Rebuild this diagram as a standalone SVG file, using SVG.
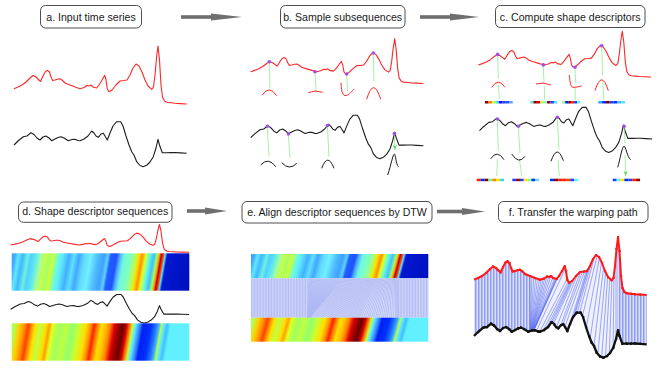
<svg xmlns="http://www.w3.org/2000/svg" width="664" height="369" viewBox="0 0 664 369">
<style>
.lb rect{fill:#fff;stroke:#3a3a3a;stroke-width:0.9}
.lb text{font-family:"Liberation Sans",Arial,sans-serif;font-size:10.6px;fill:#1a1a1a;text-anchor:middle}
.ar{fill:#6f6f6f}
.r{fill:none;stroke:#ff2626;stroke-width:1.1;stroke-linejoin:round}
.k{fill:none;stroke:#1c1c1c;stroke-width:1.1;stroke-linejoin:round}
.rf{fill:none;stroke:#ff1a1a;stroke-width:2;stroke-linejoin:round;marker-mid:url(#rd)}
.kf{fill:none;stroke:#111;stroke-width:2.3;stroke-linejoin:round;marker-mid:url(#kd)}
.g{stroke:#8cf08c;stroke-width:0.8;marker-end:url(#gh);fill:none}
.p{fill:#a24ee8}
.sr{fill:none;stroke:#ff2626;stroke-width:1}
.sk{fill:none;stroke:#1c1c1c;stroke-width:1}
.bar rect{height:2.5px}
</style>
<defs>
<path id="rs" vector-effect="non-scaling-stroke" d="M14,88.7 L18,87 22,85 26,82 30,78 33,75.5 36,77 38,79 40.5,81.5 43,76 45.5,71.5 47.5,70.3 49.5,72 51,77 52.7,80.5 55,80 58,79 60,78.8 62,80 65,83 70,85 75,87 80,88.7 84,87.5 87,85.5 89,86 91,85 93,87 96.7,88 99,85 102,80 104.7,75.3 106,80 107.3,89 109,91.7 112,90 116,85 120,81 124,80.5 127,80 130,75 133,68 136,64 139,66 142,72 145,80 148,86 151.7,89.3 153.5,87 155,75 156.5,58 158,46 159.5,60 161,85 162.5,97 164.5,101 167,102.3 171,102.8 175,103.3 180,103.6 186.7,104"/>
<path id="ks" vector-effect="non-scaling-stroke" d="M14,145 L18,141 23.3,136.7 27,136 31,132.7 34,134.5 37,138 40,140 43,137 46,136 49,138 51.7,140.7 55,139 58,137.5 61,136.7 64,138 68.3,140.7 72,139.5 75,139.3 78,140.5 80,140.7 84,139 88,136 91.7,131 94,133 96,136 98.3,137.3 101,134 103.3,133.3 105,136 107.3,140 110,133 113,126 116.7,121.7 120.7,121.7 123,126 126,136 129,145 131.7,151.7 134,155 136.7,161.7 140,165.5 143.3,166.7 147,165 150,162 153.3,156.7 156,148 158,139.3 159.5,145 162.3,152.7 166.7,152.7 171,152.6 175,152.5 180,152.9 186.7,153.3"/>
<clipPath id="fclip"><path d="M14,88.7 L18,87 22,85 26,82 30,78 33,75.5 36,77 38,79 40.5,81.5 43,76 45.5,71.5 47.5,70.3 49.5,72 51,77 52.7,80.5 55,80 58,79 60,78.8 62,80 65,83 70,85 75,87 80,88.7 84,87.5 87,85.5 89,86 91,85 93,87 96.7,88 99,85 102,80 104.7,75.3 106,80 107.3,89 109,91.7 112,90 116,85 120,81 124,80.5 127,80 130,75 133,68 136,64 139,66 142,72 145,80 148,86 151.7,89.3 153.5,87 155,75 156.5,58 158,46 159.5,60 161,85 162.5,97 164.5,101 167,102.3 175,103.3 186.7,104 L186.7,153.3 175,152.5 166.7,152.7 162.3,152.7 159.5,145 158,139.3 156,148 153.3,156.7 150,162 147,165 143.3,166.7 140,165.5 136.7,161.7 134,155 131.7,151.7 129,145 126,136 123,126 120.7,121.7 116.7,121.7 113,126 110,133 107.3,140 105,136 103.3,133.3 101,134 98.3,137.3 96,136 94,133 91.7,131 88,136 84,139 80,140.7 78,140.5 75,139.3 72,139.5 68.3,140.7 64,138 61,136.7 58,137.5 55,139 51.7,140.7 49,138 46,136 43,137 40,140 37,138 34,134.5 31,132.7 27,136 23.3,136.7 18,141 14,145 Z"/></clipPath>
<marker id="gh" markerUnits="userSpaceOnUse" markerWidth="5" markerHeight="5" viewBox="0 0 6 6" refX="6" refY="3" orient="auto"><path d="M0,0.5 L6,3 L0,5.5 L1.5,3 Z" fill="#5ed85e"/></marker>
<marker id="rd" markerUnits="userSpaceOnUse" markerWidth="3" markerHeight="3" viewBox="-1.5 -1.5 3 3"><circle r="1.3" fill="#ff1a1a"/></marker>
<marker id="kd" markerUnits="userSpaceOnUse" markerWidth="3" markerHeight="3" viewBox="-1.5 -1.5 3 3"><circle r="1.4" fill="#111"/></marker>
<pattern id="vpf" patternUnits="userSpaceOnUse" width="1.5" height="10"><rect width="0.55" height="10" fill="#5566ee"/></pattern>
<pattern id="vpe" patternUnits="userSpaceOnUse" width="1.5" height="10"><rect width="0.95" height="10" fill="#b3bcf4"/></pattern>
<linearGradient id="hT" gradientTransform="translate(0,0.5) skewX(-2.1) translate(0,-0.5)">
<stop offset="0" stop-color="#40a8ff"/><stop offset=".022" stop-color="#60e8ff"/><stop offset=".047" stop-color="#40b8ff"/><stop offset=".075" stop-color="#70f0e0"/><stop offset=".093" stop-color="#50d0ff"/><stop offset=".121" stop-color="#60e8f0"/><stop offset=".15" stop-color="#a0ffa0"/><stop offset=".178" stop-color="#c8ff40"/><stop offset=".196" stop-color="#a0ff70"/><stop offset=".22" stop-color="#d0ff30"/><stop offset=".243" stop-color="#70ffd0"/><stop offset=".271" stop-color="#60e8ff"/><stop offset=".308" stop-color="#40b0ff"/><stop offset=".336" stop-color="#60e0ff"/><stop offset=".364" stop-color="#40a8ff"/><stop offset=".393" stop-color="#60d8ff"/><stop offset=".43" stop-color="#70f0ff"/><stop offset=".467" stop-color="#50c0ff"/><stop offset=".505" stop-color="#40a0ff"/><stop offset=".527" stop-color="#60d0ff"/><stop offset=".542" stop-color="#2060ff"/><stop offset=".576" stop-color="#2050ff"/><stop offset=".594" stop-color="#50b0ff"/><stop offset=".617" stop-color="#70f8e0"/><stop offset=".654" stop-color="#80ffc0"/><stop offset=".682" stop-color="#b0ff60"/><stop offset=".70" stop-color="#ffe000"/><stop offset=".72" stop-color="#ff9000"/><stop offset=".738" stop-color="#e0ff20"/><stop offset=".757" stop-color="#70ffd0"/><stop offset=".785" stop-color="#40c0ff"/><stop offset=".804" stop-color="#a0ff60"/><stop offset=".815" stop-color="#ffa000"/><stop offset=".826" stop-color="#b00000"/><stop offset=".837" stop-color="#ff4000"/><stop offset=".847" stop-color="#60e0ff"/><stop offset=".86" stop-color="#0018d0"/><stop offset="1" stop-color="#0010c0"/>
</linearGradient>
<linearGradient id="hB" gradientTransform="translate(0,0.5) skewX(-2.1) translate(0,-0.5)">
<stop offset="0" stop-color="#b0ff50"/><stop offset=".028" stop-color="#ffd000"/><stop offset=".056" stop-color="#ff9000"/><stop offset=".079" stop-color="#ff4000"/><stop offset=".097" stop-color="#ff9000"/><stop offset=".116" stop-color="#ffe000"/><stop offset=".146" stop-color="#c0ff40"/><stop offset=".178" stop-color="#ffe000"/><stop offset=".196" stop-color="#ffa000"/><stop offset=".215" stop-color="#e0ff20"/><stop offset=".252" stop-color="#a0ff60"/><stop offset=".29" stop-color="#c0ff40"/><stop offset=".327" stop-color="#90ff70"/><stop offset=".364" stop-color="#c8ff30"/><stop offset=".402" stop-color="#ffe000"/><stop offset=".43" stop-color="#ff9000"/><stop offset=".449" stop-color="#ff2000"/><stop offset=".467" stop-color="#ff8000"/><stop offset=".49" stop-color="#ffe000"/><stop offset=".514" stop-color="#ffc000"/><stop offset=".538" stop-color="#ff8000"/><stop offset=".564" stop-color="#e00000"/><stop offset=".589" stop-color="#900000"/><stop offset=".613" stop-color="#700000"/><stop offset=".632" stop-color="#d00000"/><stop offset=".65" stop-color="#ff8000"/><stop offset=".665" stop-color="#c0ff40"/><stop offset=".682" stop-color="#60e8ff"/><stop offset=".707" stop-color="#3080ff"/><stop offset=".725" stop-color="#0020f0"/><stop offset=".766" stop-color="#0030ff"/><stop offset=".794" stop-color="#2070ff"/><stop offset=".813" stop-color="#40b0ff"/><stop offset=".826" stop-color="#b0ff50"/><stop offset=".841" stop-color="#60e8ff"/><stop offset=".86" stop-color="#40c0ff"/><stop offset=".879" stop-color="#60f0ff"/><stop offset="1" stop-color="#60f0ff"/>
</linearGradient>
</defs>

<g id="arrows">
<g id="arrow-ab" class="ar"><rect x="181" y="15.2" width="31" height="3.6"/><polygon points="211,13.6 242,17.1 211,20.6"/></g>
<g id="arrow-bc" class="ar"><rect x="420" y="15.2" width="31" height="3.6"/><polygon points="450,13.6 479,17.1 450,20.6"/></g>
<g id="arrow-de" class="ar"><rect x="187" y="209.2" width="19" height="3.6"/><polygon points="205,207.6 227,211.1 205,214.6"/></g>
<g id="arrow-ef" class="ar"><rect x="437" y="209.7" width="26" height="3.6"/><polygon points="462,208.1 485,211.6 462,215.1"/></g>
</g>

<g id="label-a" class="lb"><rect x="40.5" y="5.5" width="101" height="22.5" rx="5"/><text x="91" y="20.5">a. Input time series</text></g>
<g id="label-b" class="lb"><rect x="280.5" y="5.5" width="124.5" height="22.5" rx="5"/><text x="342.7" y="20.5">b. Sample subsequences</text></g>
<g id="label-c" class="lb"><rect x="495.5" y="5.5" width="149.5" height="22" rx="5"/><text x="570.2" y="20.5">c. Compute shape descriptors</text></g>
<g id="label-d" class="lb"><rect x="18.5" y="202" width="153.5" height="20.3" rx="5"/><text x="95.2" y="215.3">d. Shape descriptor sequences</text></g>
<g id="label-e" class="lb"><rect x="242" y="201.5" width="190" height="21.5" rx="5"/><text x="337" y="215.5">e. Align descriptor sequences by DTW</text></g>
<g id="label-f" class="lb"><rect x="498.5" y="201.5" width="149.5" height="21" rx="5"/><text x="573.2" y="215.5">f. Transfer the warping path</text></g>

<g id="panel-a">
<use href="#rs" class="r"/>
<use href="#ks" class="k"/>
</g>

<g id="panel-b">
<use href="#rs" class="r" transform="matrix(1,0,0,0.77,236.7,3.4)"/>
<use href="#ks" class="k" transform="matrix(1,0,0,0.965,236.7,-2.2)"/>
<path class="g" d="M269.3,63 L270,88.5 M315,73 L316,90.5 M346.7,75.5 L347.5,91.5 M373.3,55 L374,81.5 M267.4,128 L269,156.5 M288.4,135.5 L290,158 M327.4,126.7 L329,156.5 M394.4,135 L395,150"/>
<path class="sr" d="M262.3,95 Q269.3,84.5 276.7,95.7 M308.3,92.7 Q315,89.5 322.7,92.3 M341,82.7 C341.5,90 342,95 345,95.5 C348,96 351,92 354,89.3 M366.7,99.3 Q373.5,76 380.7,99.3"/>
<path class="sk" d="M260.7,165 Q268.3,156.5 275.7,166.7 M281.7,162.7 Q289.3,171 296.7,163.3 M321.7,168.3 Q327.7,152 334,168.3 M387.7,175 C391,165 393,154 394.3,154 C395.5,154 396,164 398.3,166.7"/>
<circle class="p" cx="269.3" cy="61.7" r="1.8"/><circle class="p" cx="315" cy="71.8" r="1.8"/><circle class="p" cx="346.7" cy="74" r="1.8"/><circle class="p" cx="373.3" cy="53" r="1.8"/>
<circle class="p" cx="267.4" cy="126.3" r="1.8"/><circle class="p" cx="288.4" cy="134" r="1.8"/><circle class="p" cx="327.4" cy="125.5" r="1.8"/><circle class="p" cx="394.4" cy="133.6" r="1.8"/>
</g>

<g id="panel-c">
<use href="#rs" class="r" transform="matrix(1,0,0,0.79,464.3,-5.1)"/>
<use href="#ks" class="k" transform="translate(465.5,-14.3)"/>
<path class="g" d="M497.7,56 L498.3,78.5 M543.3,66.5 L544,81.5 M575,69 L575.7,83 M601.7,47.5 L602.7,75 M498.5,85 L499.3,99 M544.3,85.5 L544.7,100 M575.3,88 L575,100 M602.8,82 L604,100 M497.4,121 L498.3,151 M518.4,128 L520,153 M557.4,119.5 L559,149.5 M624.1,127.5 L625,143 M497.5,159.5 L496.7,176 M519.5,159.5 L521.7,176 M558,160 L559.3,176 M625,155 L625.7,176"/>
<path class="sr" d="M491.7,87.3 Q498.3,77 505,87.3 M536,84 Q543,81.5 550.7,85 M569.3,75 C570,82 570.5,87 573,87.3 C576,87.5 579,86.5 581.7,86 M595,90.7 Q601.7,69 608.3,90.7"/>
<path class="sk" d="M490.7,158.7 Q497.3,149 504,159.7 M511.7,154 Q519,165 525,156.3 M551,161.3 Q557.3,143 563.3,160.7 M617.7,167.3 C620,160 622,146.3 624,146.3 C626,146.3 627,157 630.7,159.7"/>
<circle class="p" cx="497.7" cy="54.4" r="1.8"/><circle class="p" cx="543.3" cy="64.9" r="1.8"/><circle class="p" cx="575" cy="67.3" r="1.8"/><circle class="p" cx="601.7" cy="45.7" r="1.8"/>
<circle class="p" cx="497.4" cy="119" r="1.8"/><circle class="p" cx="518.4" cy="126.3" r="1.8"/><circle class="p" cx="557.4" cy="117.2" r="1.8"/><circle class="p" cx="624.1" cy="126.2" r="1.8"/>
<g class="bar" transform="translate(485,101)"><rect x="0" width="3.5" fill="#8b0000"/><rect x="3.46" width="3.5" fill="#ff8000"/><rect x="6.92" width="3.5" fill="#c0ff40"/><rect x="10.38" width="3.5" fill="#40e0ff"/><rect x="13.84" width="3.5" fill="#0010ff"/><rect x="17.3" width="3.5" fill="#2040ff"/><rect x="20.76" width="3.5" fill="#3050ff"/><rect x="24.22" width="3.5" fill="#60a0ff"/></g>
<g class="bar" transform="translate(530,101)"><rect x="0" width="3.45" fill="#60f0e0"/><rect x="3.41" width="3.45" fill="#900000"/><rect x="6.82" width="3.45" fill="#d00000"/><rect x="10.23" width="3.45" fill="#c0ff40"/><rect x="13.64" width="3.45" fill="#80ffd0"/><rect x="17.05" width="3.45" fill="#a00000"/><rect x="20.46" width="3.45" fill="#2040ff"/><rect x="23.87" width="3.45" fill="#60e0ff"/></g>
<g class="bar" transform="translate(562.3,101)"><rect x="0" width="3" fill="#80ff80"/><rect x="2.95" width="3" fill="#0020ff"/><rect x="5.9" width="3" fill="#900000"/><rect x="8.85" width="3" fill="#ff2000"/><rect x="11.8" width="3" fill="#2040ff"/><rect x="14.75" width="3" fill="#60f0ff"/></g>
<g class="bar" transform="translate(598.3,101)"><rect x="0" width="3.85" fill="#40a0ff"/><rect x="3.81" width="3.85" fill="#0030ff"/><rect x="7.62" width="3.85" fill="#800000"/><rect x="11.43" width="3.85" fill="#2040ff"/><rect x="15.24" width="3.85" fill="#0030ff"/><rect x="19.05" width="3.85" fill="#40c0ff"/><rect x="22.86" width="3.85" fill="#60e0ff"/></g>
<g class="bar" transform="translate(476.7,178.7)"><rect x="0" width="3.95" fill="#ff2000"/><rect x="3.9" width="3.95" fill="#0030ff"/><rect x="7.8" width="3.95" fill="#800000"/><rect x="11.7" width="3.95" fill="#60ff90"/><rect x="15.6" width="3.95" fill="#ff8000"/><rect x="19.5" width="3.95" fill="#ffe000"/><rect x="23.4" width="3.95" fill="#40d0ff"/></g>
<g class="bar" transform="translate(512.3,178.7)"><rect x="0" width="3.85" fill="#2040ff"/><rect x="3.81" width="3.85" fill="#a00000"/><rect x="7.62" width="3.85" fill="#2040ff"/><rect x="11.43" width="3.85" fill="#ffe000"/><rect x="15.24" width="3.85" fill="#80ff80"/><rect x="19.05" width="3.85" fill="#0030ff"/><rect x="22.86" width="3.85" fill="#60e0ff"/></g>
<g class="bar" transform="translate(550,178.7)"><rect x="0" width="4.1" fill="#0030ff"/><rect x="4.04" width="4.1" fill="#800000"/><rect x="8.08" width="4.1" fill="#ff2000"/><rect x="12.12" width="4.1" fill="#ff2000"/><rect x="16.16" width="4.1" fill="#ff4000"/><rect x="20.2" width="4.1" fill="#2040ff"/><rect x="24.24" width="4.1" fill="#60f0ff"/></g>
<g class="bar" transform="translate(612.7,178.7)"><rect x="0" width="3.95" fill="#2040ff"/><rect x="3.9" width="3.95" fill="#60f0ff"/><rect x="7.8" width="3.95" fill="#ffe000"/><rect x="11.7" width="3.95" fill="#0030ff"/><rect x="15.6" width="3.95" fill="#2040ff"/><rect x="19.5" width="3.95" fill="#ff2000"/><rect x="23.4" width="3.95" fill="#a00000"/></g>
</g>

<g id="panel-d">
<use href="#rs" class="r" transform="matrix(1.033,0,0,0.48,-3.76,202.4)"/>
<use href="#ks" class="k" transform="matrix(1.033,0,0,0.635,-3.76,217.2)"/>
<rect x="11.7" y="253.3" width="177.6" height="37.4" fill="url(#hT)"/>
<rect x="11.7" y="323.3" width="177.6" height="37.4" fill="url(#hB)"/>
</g>

<g id="panel-e">
<rect x="251" y="254" width="177.3" height="24.3" fill="url(#hT)"/>
<rect x="251" y="278.3" width="177.3" height="39.4" fill="#d9defa"/>
<g transform="matrix(1.033,0,0,1,235.5,0)">
<rect x="14.8" y="278.3" width="55.6" height="39.4" fill="url(#vpe)"/>
<rect x="157.2" y="278.3" width="29.5" height="39.4" fill="url(#vpe)"/>
<path fill="none" stroke="#aeb8f3" stroke-width="0.8" d="M71,278.3L70.06,317.7M72,278.3L70.1,317.7M73,278.3L70.18,317.7M74,278.3L70.24,317.7M75,278.3L70.3,317.7M76,278.3L70.35,317.7M77,278.3L70.41,317.7M78,278.3L70.5,317.7M79,278.3L70.53,317.7M80,278.3L70.6,317.7M81,278.3L70.65,317.7M82,278.3L70.7,317.7M83,278.3L70.76,317.7M84,278.3L70.8,317.7M85,278.3L70.88,317.7M86,278.3L70.9,317.7M87,278.3L71,317.7M88,278.3L71.1,317.7M89,278.3L71.1,317.7M90,278.3L71.2,317.7M91,278.3L71.23,317.7M92,278.3L71.3,317.7M93,278.3L71.35,317.7M94,278.3L71.4,317.7M95,278.3L71.47,317.7M96,278.3L71.5,317.7M97,278.3L71.6,317.7M98,278.3L71.6,317.7M99,278.3L71.7,317.7M100,278.3L71.8,317.7M101,278.3L71.8,317.7M102,278.3L71.9,317.7M103,278.3L71.94,317.7M104,278.3L72,317.7M105,278.3L73.45,317.7M106,278.3L74.9,317.7M107,278.3L76.4,317.7M108,278.3L77.8,317.7M109,278.3L79.3,317.7M110,278.3L80.7,317.7M111,278.3L82.2,317.7M112,278.3L83.6,317.7M113,278.3L85.1,317.7M114,278.3L86.5,317.7M115,278.3L88,317.7M116,278.3L89.5,317.7M117,278.3L90.9,317.7M118,278.3L92.4,317.7M119,278.3L93.8,317.7M120,278.3L95.3,317.7M121,278.3L96.7,317.7M122,278.3L98.2,317.7M123,278.3L99.6,317.7M124,278.3L101.1,317.7M125,278.3L102.5,317.7M126,278.3L104,317.7M127,278.3L105.5,317.7M128,278.3L106.9,317.7M129,278.3L108.4,317.7M130,278.3L109.8,317.7M131,278.3L111.3,317.7M132,278.3L112.7,317.7M133,278.3L114.2,317.7M134,278.3L115.6,317.7M135,278.3L117.1,317.7M136,278.3L118.5,317.7M137,278.3L120,317.7M138,278.3L121.9,317.7M139,278.3L123.9,317.7M140,278.3L125.8,317.7M141,278.3L127.8,317.7M142,278.3L129.7,317.7M143,278.3L131.7,317.7M144,278.3L133.6,317.7M145,278.3L135.6,317.7M146,278.3L137.5,317.7M147,278.3L139.4,317.7M148,278.3L141.4,317.7M149,278.3L143.3,317.7M150,278.3L145.3,317.7M151,278.3L147.2,317.7M152,278.3L149.2,317.7M153,278.3L151.1,317.7M154,278.3L153.1,317.7M155,278.3L155,317.7M156,278.3L156,317.7M157,278.3L157,317.7"/>
</g>
<rect x="251" y="317.7" width="177.3" height="24" fill="url(#hB)"/>
</g>

<g id="panel-f" transform="translate(460,191)">
<g clip-path="url(#fclip)">
<rect x="10" y="40" width="180" height="135" fill="#eef0fd"/>
<rect x="13.6" y="40" width="56.8" height="135" fill="url(#vpf)"/>
<rect x="157.2" y="40" width="30" height="135" fill="url(#vpf)"/>
<path fill="none" stroke="#5566ee" stroke-width="0.55" d="M70,81L70,144.1M72,81.8L70.1,144.1M74,82.6L70.2,144.1M76,83.3L70.35,144.1M78,84L70.5,144.1M80,84.7L70.6,144.1M82,84.1L70.7,144.1M84,83.5L70.8,144.1M86,82.2L70.9,144M88,81.75L71.1,144M90,81.5L71.2,144M92,82L71.3,143.9M94,83.3L71.4,143.9M96,83.8L71.5,143.9M98,82.3L71.6,143.8M100,79.3L71.8,143.7M102,76L71.9,143.6M104,72.5L72,143.5M106,76L74.9,143.3M108,86.1L77.8,144.4M110,87.2L80.7,144.4M112,86L83.6,143.2M114,83.5L86.5,141.1M116,81L89.5,138M118,79L92.4,135.3M120,77L95.3,139M122,76.75L98.2,141.1M124,76.5L101.1,138M126,76.2L104,138.3M128,74.3L106.9,143.3M130,71L109.8,137.5M132,66.3L112.7,130.7M134,62.7L115.6,127M136,60L118.5,125.7M138,61.3L121.9,127.2M140,64L125.8,138.7M142,68L129.7,150.7M144,73.3L133.6,158.5M146,78L137.5,166.6M148,82L141.4,170M150,83.8L145.3,169.9M152,85L149.2,166.8M154,79L153.1,161M156,59.7L156,152"/>
</g>
<use href="#rs" class="rf"/>
<use href="#ks" class="kf"/>
</g>
</svg>
